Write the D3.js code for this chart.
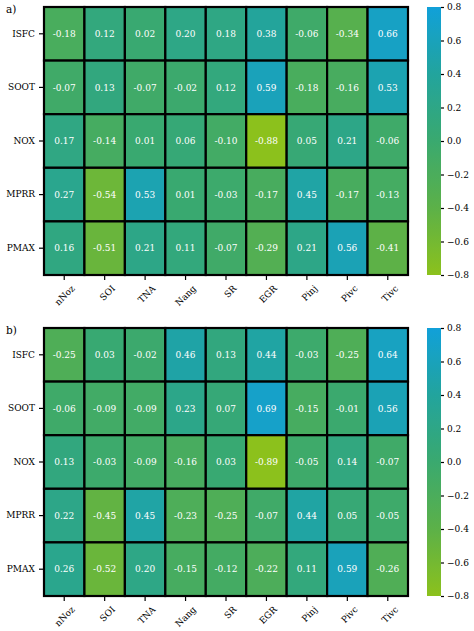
<!DOCTYPE html>
<html><head><meta charset="utf-8">
<script src="https://cdn.jsdelivr.net/npm/d3@7"></script>
<style>body{margin:0;background:#fff}svg{display:block}</style>
</head><body><svg id="c" width="474" height="631"></svg>
<script>
const columns = ["nNoz","SOI","TNA","Nang","SR","EGR","Pinj","Pivc","Tivc"];
const rows = ["ISFC","SOOT","NOX","MPRR","PMAX"];
const valuesA = [
  [-0.18,0.12,0.02,0.20,0.18,0.38,-0.06,-0.34,0.66],
  [-0.07,0.13,-0.07,-0.02,0.12,0.59,-0.18,-0.16,0.53],
  [0.17,-0.14,0.01,0.06,-0.10,-0.88,0.05,0.21,-0.06],
  [0.27,-0.54,0.53,0.01,-0.03,-0.17,0.45,-0.17,-0.13],
  [0.16,-0.51,0.21,0.11,-0.07,-0.29,0.21,0.56,-0.41]
];
const valuesB = [
  [-0.25,0.03,-0.02,0.46,0.13,0.44,-0.03,-0.25,0.64],
  [-0.06,-0.09,-0.09,0.23,0.07,0.69,-0.15,-0.01,0.56],
  [0.13,-0.03,-0.09,-0.16,0.03,-0.89,-0.05,0.14,-0.07],
  [0.22,-0.45,0.45,-0.23,-0.25,-0.07,0.44,0.05,-0.05],
  [0.26,-0.52,0.20,-0.15,-0.12,-0.22,0.11,0.59,-0.26]
];
const colorbarTicks = [0.8,0.6,0.4,0.2,0.0,-0.2,-0.4,-0.6,-0.8];
const panelLabels = ["a)","b)"];

const FONT = "DejaVu Serif";
const color = d3.scaleLinear()
  .domain([-0.8,-0.4,0,0.4,0.8])
  .range(["#8cc11c","#5cb148","#3aa96f","#22a49d","#11a0d9"])
  .clamp(true);

const svg = d3.select("#c");
const fmt = v => (v < 0 ? "-" : "") + Math.abs(v).toFixed(2);
const tfmt = v => (v < 0 ? "\u2212" : "") + Math.abs(v).toFixed(1);

function panel(data, top, label) {
  const x = d3.scaleBand().domain(columns).range([44, 408]);
  const y = d3.scaleBand().domain(rows).range([top, top + 268]);
  const g = svg.append("g");
  const cells = g.selectAll("g.cell").data(data.flatMap((r,i)=>r.map((v,j)=>({r:rows[i],c:columns[j],v}))))
    .join("g");
  cells.append("rect")
    .attr("x", d=>x(d.c)).attr("y", d=>y(d.r))
    .attr("width", x.bandwidth()).attr("height", y.bandwidth())
    .attr("fill", d=>color(d.v)).attr("stroke","#000").attr("stroke-width",2.2);
  cells.append("text")
    .attr("x", d=>x(d.c)+x.bandwidth()/2).attr("y", d=>y(d.r)+y.bandwidth()/2)
    .attr("dy","0.35em").attr("text-anchor","middle")
    .attr("font-family",FONT)
    .attr("fill","#fff").attr("font-size",9).text(d=>fmt(d.v));
  const ya = g.append("g").attr("transform","translate(43,0)")
    .call(d3.axisLeft(y).tickSize(4).tickPadding(4));
  ya.attr("font-family",FONT);
  ya.select(".domain").remove();
  ya.selectAll("text").attr("font-size",9).attr("fill","#000");
  ya.selectAll("line").attr("stroke","#000").attr("stroke-width",1.2);
  const xa = g.append("g").attr("transform",`translate(0,${top+269})`)
    .call(d3.axisBottom(x).tickSize(4).tickPadding(2));
  xa.attr("font-family",FONT);
  xa.select(".domain").remove();
  xa.selectAll("line").attr("stroke","#000").attr("stroke-width",1.2);
  xa.selectAll("text").attr("font-size",9).attr("fill","#000")
    .attr("text-anchor","end").attr("dy","0.6em")
    .attr("transform","translate(3,5) rotate(-45)");
  g.append("text").attr("x",6).attr("y",top+6).attr("font-size",10.5).attr("font-family",FONT).text(label);
  const cb = d3.scaleLinear().domain([-0.8,0.8]).range([top+268, top]);
  const gid = "grad"+top;
  const grad = svg.append("defs").append("linearGradient").attr("id",gid)
    .attr("x1",0).attr("y1",1).attr("x2",0).attr("y2",0);
  d3.range(0,1.0001,0.05).forEach(t=>{
    grad.append("stop").attr("offset",t).attr("stop-color",color(-0.8+1.6*t));
  });
  g.append("rect").attr("x",427).attr("y",top).attr("width",14).attr("height",268)
    .attr("fill",`url(#${gid})`);
  const ca = g.append("g").attr("transform","translate(441,0)")
    .call(d3.axisRight(cb).tickValues(colorbarTicks).tickFormat(tfmt).tickSize(3).tickPadding(3));
  ca.attr("font-family",FONT);
  ca.select(".domain").remove();
  ca.selectAll("line").attr("stroke","#000").attr("stroke-width",1.2);
  ca.selectAll("text").attr("font-size",9).attr("fill","#000");
}
panel(valuesA, 7, panelLabels[0]);
panel(valuesB, 328, panelLabels[1]);
</script></body></html>
